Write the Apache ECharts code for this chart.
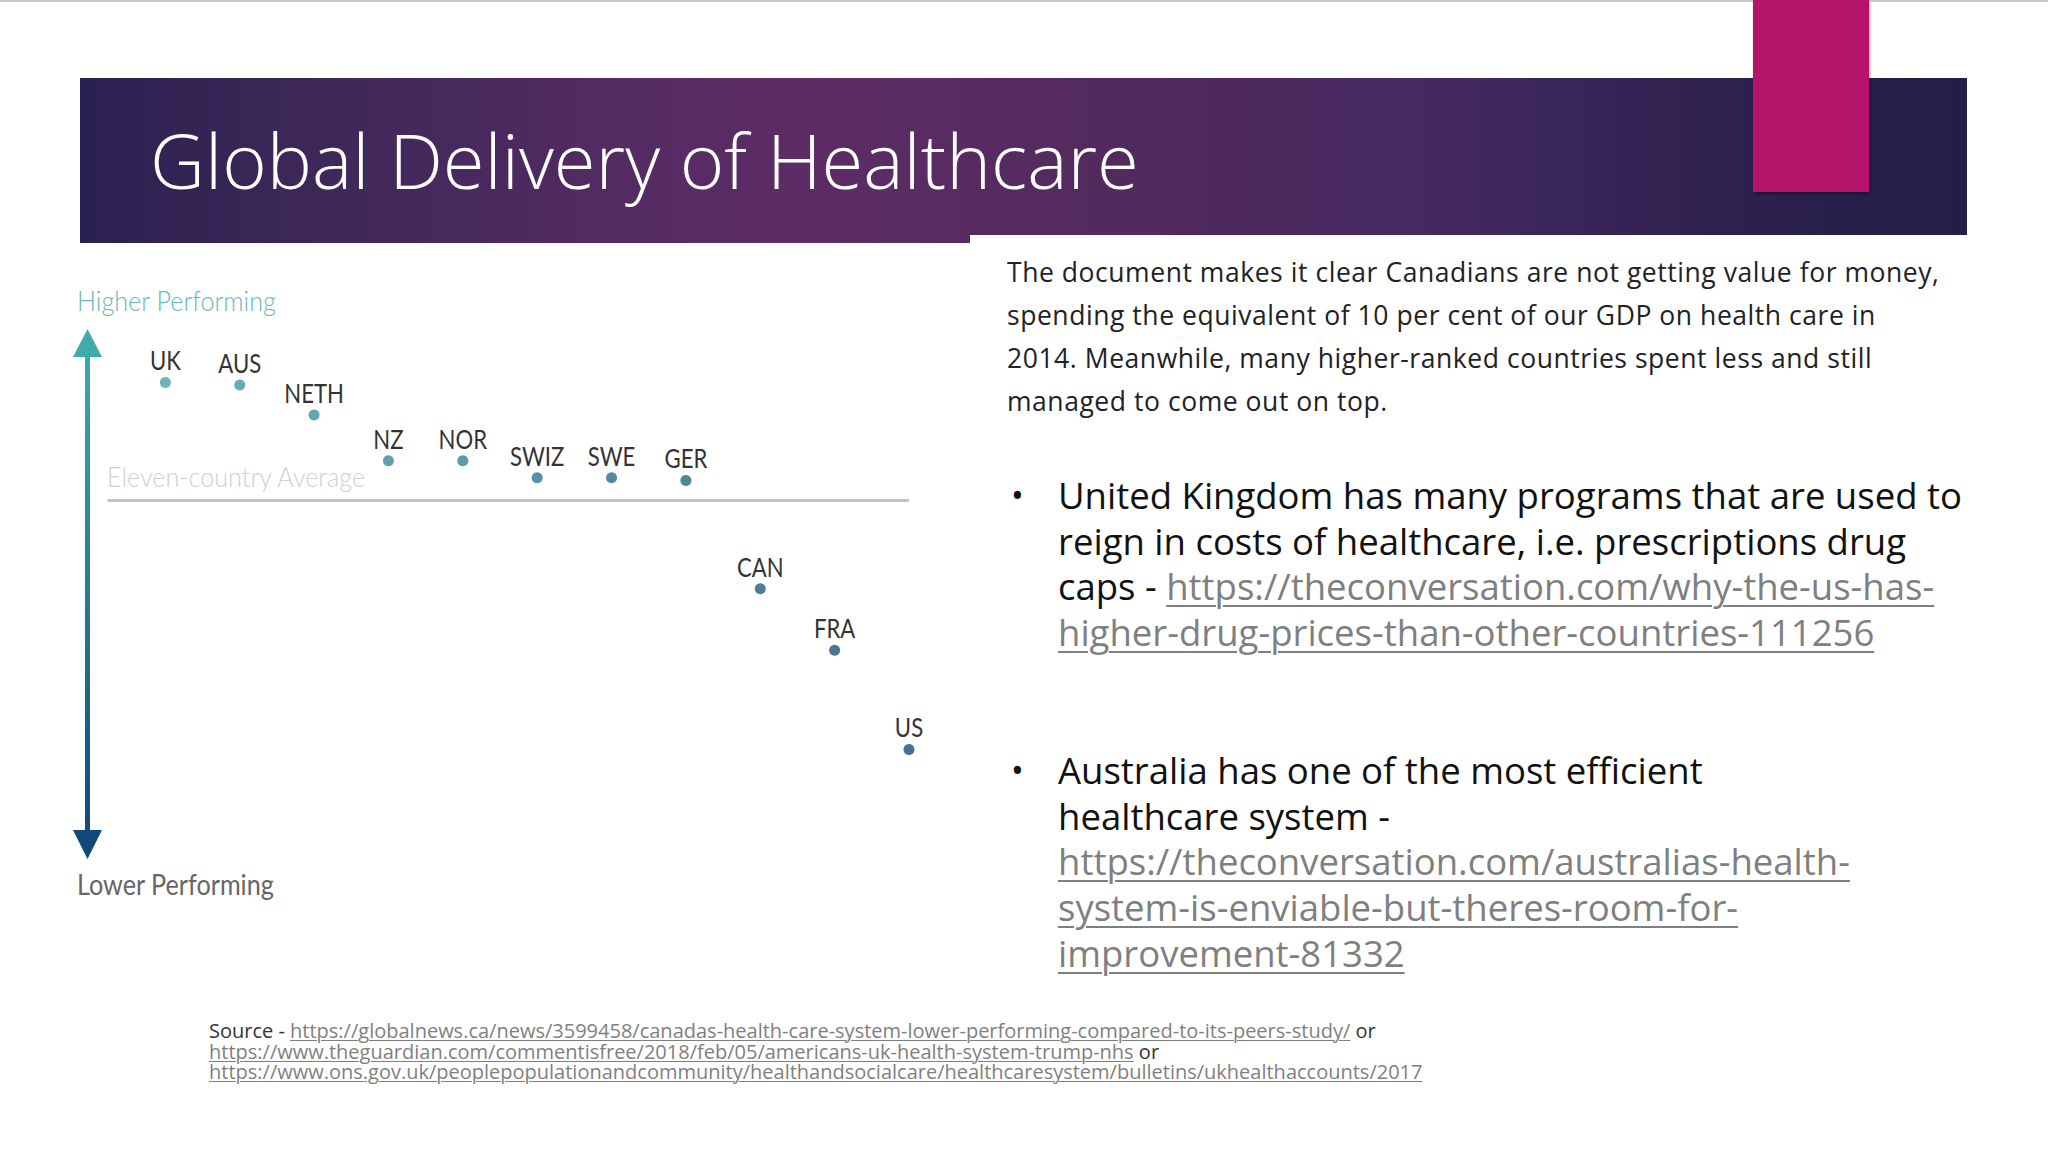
<!DOCTYPE html>
<html>
<head>
<meta charset="utf-8">
<title>Global Delivery of Healthcare</title>
<script src="https://cdn.jsdelivr.net/npm/echarts@6/dist/echarts.min.js"></script>
<style>
  html, body { margin: 0; padding: 0; background: #fff; }
  #slide { position: relative; width: 2048px; height: 1152px; overflow: hidden; background: #fff; }
  #chart { position: absolute; left: 0; top: 0; width: 2048px; height: 1152px; z-index: 1; }
  .topline { position: absolute; left: 0; top: 0; width: 2048px; height: 2px; background: #c9c9c9; z-index: 2; }
  .band {
    position: absolute; left: 80px; top: 78px; width: 1887px; height: 165px; z-index: 2;
    background: linear-gradient(90deg, #2a2150 0%, #40285a 14%, #552b63 30%, #5d2c66 38%, #522a5e 55%, #4a2960 66%, #44295f 72%, #2e2150 86%, #231d47 100%);
  }
  .band-cut { position: absolute; left: 970px; top: 235px; width: 1000px; height: 10px; background: #fff; z-index: 3; }
  .accent { position: absolute; left: 1753px; top: 0; width: 116px; height: 192px; background: #b5146b; z-index: 4;
    box-shadow: 1px 2px 3px rgba(0,0,0,0.35); }
  .title { position: absolute; left: 150px; top: 110px; z-index: 5; color: #fff; white-space: nowrap;
    font-family: "Open Sans", sans-serif; font-weight: 300; font-size: 76px; line-height: 100px; }
  .ln { white-space: nowrap; overflow: visible; }
  .ln span { display: inline-block; }
  .para { position: absolute; left: 1007px; top: 251px; z-index: 5; color: #222;
    font-family: "Open Sans", sans-serif; font-size: 26.5px; letter-spacing: 0.55px; }
  .para .ln { height: 43px; line-height: 43px; }
  .bullet { position: absolute; left: 1058px; z-index: 5; color: #111;
    font-family: "Open Sans", sans-serif; font-size: 36.5px; }
  .bullet .ln { height: 45.7px; line-height: 45.7px; }
  .bullet .dot { position: absolute; left: -47px; top: 0; font-size: 34px; line-height: 45.7px; }
  .link { color: #7f7f7f; text-decoration: underline; text-decoration-thickness: 2px; text-underline-offset: 5px; }
  .source { position: absolute; left: 209px; top: 1021px; z-index: 5; color: #333;
    font-family: "Open Sans", sans-serif; font-size: 20px; }
  .source .ln { height: 20.5px; line-height: 20.5px; }
  .source .link { text-decoration-thickness: 1px; text-underline-offset: 2px; }
</style>
</head>
<body>
<div id="slide">
  <div id="chart"></div>
  <div class="topline"></div>
  <div class="band"></div>
  <div class="band-cut"></div>
  <div class="accent"></div>
  <div class="title">Global Delivery of Healthcare</div>

  <div class="para">
    <div class="ln">The document makes it clear Canadians are not getting value for money,</div>
    <div class="ln">spending the equivalent of 10 per cent of our GDP on health care in</div>
    <div class="ln">2014. Meanwhile, many higher-ranked countries spent less and still</div>
    <div class="ln">managed to come out on top.</div>
  </div>

  <div class="bullet" style="top:473px;">
    <span class="dot">&bull;</span>
    <div class="ln">United Kingdom has many programs that are used to</div>
    <div class="ln">reign in costs of healthcare, i.e. prescriptions drug</div>
    <div class="ln">caps - <span class="link">https://theconversation.com/why-the-us-has-</span></div>
    <div class="ln"><span class="link">higher-drug-prices-than-other-countries-111256</span></div>
  </div>

  <div class="bullet" style="top:748px;">
    <span class="dot">&bull;</span>
    <div class="ln">Australia has one of the most efficient</div>
    <div class="ln">healthcare system -</div>
    <div class="ln"><span class="link">https://theconversation.com/australias-health-</span></div>
    <div class="ln"><span class="link">system-is-enviable-but-theres-room-for-</span></div>
    <div class="ln"><span class="link">improvement-81332</span></div>
  </div>

  <div class="source">
    <div class="ln">Source - <span class="link">https://globalnews.ca/news/3599458/canadas-health-care-system-lower-performing-compared-to-its-peers-study/</span> or</div>
    <div class="ln"><span class="link">https://www.theguardian.com/commentisfree/2018/feb/05/americans-uk-health-system-trump-nhs</span> or</div>
    <div class="ln"><span class="link">https://www.ons.gov.uk/peoplepopulationandcommunity/healthandsocialcare/healthcaresystem/bulletins/ukhealthaccounts/2017</span></div>
  </div>
</div>

<script>
// countries in ranking order, left to right
const countries = ['UK', 'AUS', 'NETH', 'NZ', 'NOR', 'SWIZ', 'SWE', 'GER', 'CAN', 'FRA', 'US'];
// overall performance relative to the eleven-country average (0 = average)
const performance = [90, 88, 65, 30, 30, 17, 17, 15, -68, -115, -191];
const average = 0;
const axisTexts = ['Higher Performing', 'Lower Performing', 'Eleven-country Average'];

const chart = echarts.init(document.getElementById('chart'), null, {renderer: 'svg'});

const arrowGradient = new echarts.graphic.LinearGradient(0, 0, 0, 1, [
  {offset: 0, color: '#3fabab'},
  {offset: 1, color: '#0f4a7a'}
]);

const points = countries.map((c, i) => ({name: c, value: [i, performance[i]]}));

chart.setOption({
  animation: false,
  grid: {left: 91, right: 1139, top: 369.4, bottom: 390.8},
  xAxis: {type: 'value', min: -1, max: 10, show: false},
  yAxis: {type: 'value', min: -200, max: 100, show: false},
  visualMap: {
    type: 'continuous',
    show: false,
    seriesIndex: 0,
    dimension: 0,
    min: 0,
    max: 10,
    inRange: {color: ['#44a2a6', '#1b4a73']}
  },
  series: [
    {
      type: 'scatter',
      symbolSize: 11,
      data: points,
      markLine: {
        silent: true,
        symbol: 'none',
        label: {show: false},
        lineStyle: {color: '#c4c4c4', width: 3, type: 'solid'},
        data: [[{coord: [-0.78, average]}, {coord: [10, average]}]]
      }
    },
    {
      // country names, slightly condensed like the original graphic
      type: 'custom',
      data: points,
      renderItem: function (params, api) {
        const pt = api.coord([api.value(0), api.value(1)]);
        return {
          type: 'text',
          x: pt[0],
          y: pt[1] - 9,
          scaleX: 0.82,
          style: {
            text: countries[params.dataIndex],
            textAlign: 'center',
            textVerticalAlign: 'bottom',
            fill: '#333',
            font: '27px Lato'
          }
        };
      }
    }
  ],
  graphic: [
    // up/down arrow on the left
    {type: 'rect', shape: {x: 85, y: 345, width: 5, height: 495}, style: {fill: arrowGradient}},
    {type: 'polygon', shape: {points: [[87.5, 329], [73, 357], [102, 357]]}, style: {fill: '#3fabab'}},
    {type: 'polygon', shape: {points: [[87.5, 859], [73, 830], [102, 830]]}, style: {fill: '#0f4a7a'}},
    {type: 'text', x: 77, y: 286, scaleX: 0.9, style: {text: axisTexts[0], fill: '#6ab7b7', font: '300 28px Lato'}},
    {type: 'text', x: 77, y: 870, scaleX: 0.9, style: {text: axisTexts[1], fill: '#666', font: '28px Lato'}},
    {type: 'text', x: 107, y: 462, scaleX: 0.9, style: {text: axisTexts[2], fill: '#d0d0d0', font: '300 28px Lato'}}
  ]
});
</script>
</body>
</html>
